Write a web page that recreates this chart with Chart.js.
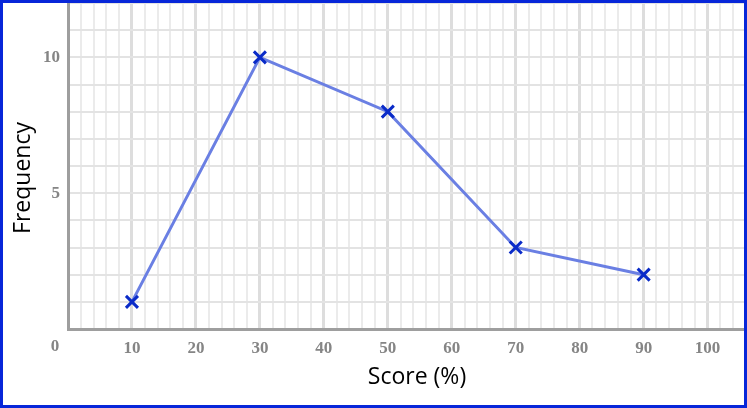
<!DOCTYPE html>
<html>
<head>
<meta charset="utf-8">
<script src="https://cdn.jsdelivr.net/npm/chart.js@4/dist/chart.umd.min.js"></script>
<style>
  html, body { margin: 0; padding: 0; background: #fff; }
  #wrap { width: 747px; height: 408px; position: relative; }
</style>
</head>
<body>
<div id="wrap"><canvas id="chart"></canvas></div>
<script>
const scores = [10, 30, 50, 70, 90];
const frequencies = [1, 10, 8, 3, 2];
const xLabelValues = [10, 20, 30, 40, 50, 60, 70, 80, 90, 100];
const yLabelValues = [5, 10];

const tickFont = { family: '"Liberation Serif", serif', size: 17, weight: 'bold' };
const tickColor = '#858585';

// extra text: frame, titles and the origin "0"
const decorations = {
    id: 'decorations',
    afterDraw(c) {
        const ctx = c.ctx;
        const x = c.scales.x;
        ctx.save();
        ctx.font = 'bold 17px "Liberation Serif", serif';
        ctx.fillStyle = tickColor;
        ctx.textAlign = 'center';
        ctx.textBaseline = 'middle';
        ctx.fillText('0', x.getPixelForValue(0) - 13, 347);

        ctx.fillStyle = '#000';
        ctx.font = '23px "Open Sans", sans-serif';
        ctx.fillText('Score (%)', 417, 377);
        ctx.translate(23, 178);
        ctx.rotate(-Math.PI / 2);
        ctx.fillText('Frequency', 0, 0);
        ctx.restore();

        ctx.save();
        ctx.strokeStyle = '#0726d9';
        ctx.lineWidth = 3;
        ctx.strokeRect(1.5, 1.5, c.width - 3, c.height - 3);
        ctx.restore();
    },
};

new Chart(document.getElementById('chart'), {
    type: 'line',
    data: {
        datasets: [{
            data: scores.map((s, i) => ({ x: s, y: frequencies[i] })),
            borderColor: '#6a7fe3',
            borderWidth: 3,
            pointStyle: 'crossRot',
            pointRadius: 8.5,
            pointBorderWidth: 3,
            pointBorderColor: '#0a2bc8',
            pointBackgroundColor: '#0a2bc8',
            tension: 0,
        }],
    },
    options: {
        responsive: true,
        maintainAspectRatio: false,
        animation: false,
        layout: { autoPadding: false, padding: { left: 3, top: 3, right: 1, bottom: 3 } },
        plugins: { legend: { display: false }, tooltip: { enabled: false } },
        scales: {
            x: {
                type: 'linear',
                min: 0,
                max: 106,
                afterFit(s) {
                    s.height = 76;
                    s.paddingLeft = 0;
                    s.paddingRight = 0;
                },
                afterBuildTicks(s) {
                    const t = [];
                    for (let v = 0; v <= 106; v += 2) t.push({ value: v });
                    s.ticks = t;
                },
                ticks: {
                    autoSkip: false,
                    maxRotation: 0,
                    padding: 9,
                    font: tickFont,
                    color: tickColor,
                    callback: (v) => (xLabelValues.includes(v) ? String(v) : ''),
                },
                grid: {
                    drawTicks: false,
                    color: (ctx) => (ctx.tick && ctx.tick.value % 10 === 0 ? '#dddddd' : '#ebebeb'),
                    lineWidth: (ctx) => (ctx.tick && ctx.tick.value % 10 === 0 ? 3 : 2),
                },
                border: { color: '#9e9e9e', width: 3 },
            },
            y: {
                min: 0,
                max: 12,
                afterFit(s) {
                    s.width = 65;
                    s.paddingTop = 0;
                    s.paddingBottom = 0;
                },
                ticks: {
                    stepSize: 1,
                    autoSkip: false,
                    padding: 8,
                    font: tickFont,
                    color: tickColor,
                    callback: (v) => (yLabelValues.includes(v) ? String(v) : ''),
                },
                grid: { drawTicks: false, color: '#e3e3e3', lineWidth: 2 },
                border: { color: '#9e9e9e', width: 3 },
            },
        },
    },
    plugins: [decorations],
});
</script>
</body>
</html>
